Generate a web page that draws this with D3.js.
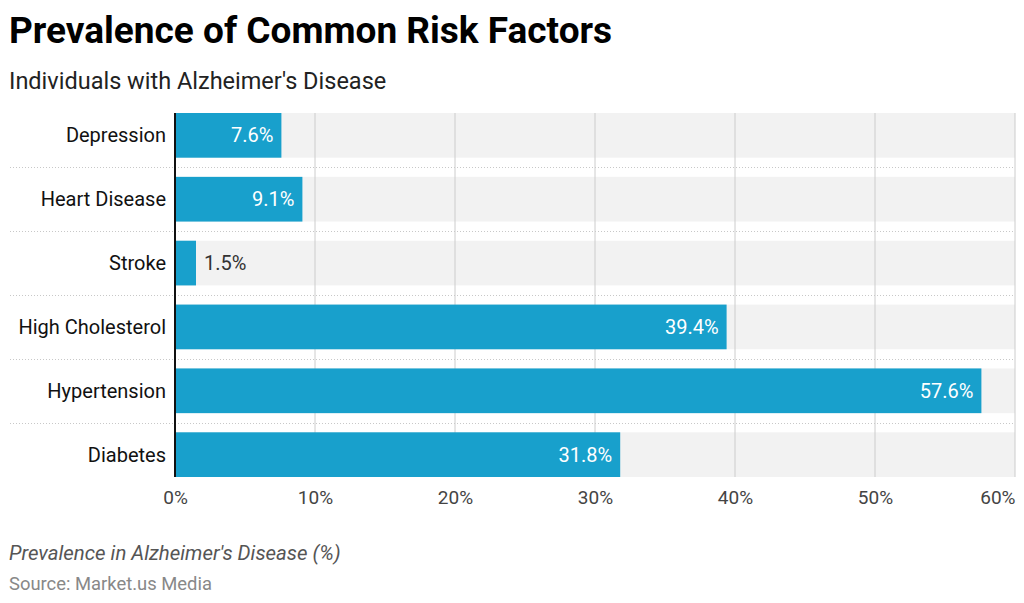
<!DOCTYPE html>
<html>
<head>
<meta charset="utf-8">
<script src="https://cdn.jsdelivr.net/npm/d3@7"></script>
<style>
  body { margin: 0; background: #fff; font-family: Roboto, sans-serif; }
  svg { display: block; }
</style>
</head>
<body>
<svg id="chart" width="1024" height="603"></svg>
<script>
const categories = ['Depression', 'Heart Disease', 'Stroke', 'High Cholesterol', 'Hypertension', 'Diabetes'];
const values = [7.6, 9.1, 1.5, 39.4, 57.6, 31.8];
const ticks = [0, 10, 20, 30, 40, 50, 60];

const margin = {top: 113, left: 175, right: 9, bottom: 126};
const width = 1024 - margin.left - margin.right;
const height = 603 - margin.top - margin.bottom;

const svg = d3.select('#chart');

svg.append('text')
    .attr('x', 9).attr('y', 43)
    .style('font-size', '37px').style('font-weight', 'bold').style('fill', '#000')
    .text('Prevalence of Common Risk Factors');

svg.append('text')
    .attr('x', 9).attr('y', 89)
    .style('font-size', '23.5px').style('fill', '#222')
    .text("Individuals with Alzheimer's Disease");

const x = d3.scaleLinear().domain([0, 60]).range([0, width]);
const y = d3.scaleBand().domain(categories).range([0, height]).paddingInner(0.3).paddingOuter(0);

const g = svg.append('g').attr('transform', `translate(${margin.left},${margin.top})`);

// background bands
g.selectAll('.bg').data(categories).join('rect')
    .attr('x', 0).attr('y', d => y(d))
    .attr('width', width).attr('height', y.bandwidth())
    .attr('fill', '#f2f2f2');

// dotted separators between rows
const gap = y.step() - y.bandwidth();
g.selectAll('.sep').data(categories.slice(1)).join('line')
    .attr('x1', 10 - margin.left).attr('x2', width)
    .attr('y1', d => Math.round(y(d) - gap / 2) + 0.5)
    .attr('y2', d => Math.round(y(d) - gap / 2) + 0.5)
    .attr('stroke', '#c8c8c8').attr('stroke-width', 1).attr('stroke-dasharray', '1,2');

// grid
g.selectAll('.grid').data(ticks.slice(1)).join('line')
    .attr('x1', d => x(d)).attr('x2', d => x(d))
    .attr('y1', 0).attr('y2', height)
    .attr('stroke', '#cccccc').attr('stroke-width', 1);

// bars
g.selectAll('.bar').data(values).join('rect')
    .attr('x', 0).attr('y', (d, i) => y(categories[i]))
    .attr('width', d => x(d)).attr('height', y.bandwidth())
    .attr('fill', '#18a0cc');

// value labels
g.selectAll('.val').data(values).join('text')
    .attr('x', d => x(d) > 60 ? x(d) - 8 : x(d) + 8)
    .attr('y', (d, i) => y(categories[i]) + y.bandwidth() / 2)
    .attr('dy', '0.35em')
    .attr('text-anchor', d => x(d) > 60 ? 'end' : 'start')
    .style('font-size', '20px')
    .style('fill', d => x(d) > 60 ? '#fff' : '#333')
    .text(d => d.toFixed(1) + '%');

// category labels
g.selectAll('.cat').data(categories).join('text')
    .attr('x', -9)
    .attr('y', d => y(d) + y.bandwidth() / 2)
    .attr('dy', '0.35em')
    .attr('text-anchor', 'end')
    .style('font-size', '20px').style('fill', '#111')
    .text(d => d);

// baseline
g.append('line')
    .attr('x1', 0).attr('x2', 0).attr('y1', 0).attr('y2', height)
    .attr('stroke', '#111').attr('stroke-width', 2);

// x axis
const xAxis = g.append('g').attr('transform', `translate(0,${height})`)
    .call(d3.axisBottom(x).tickValues(ticks).tickFormat(d => d + '%').tickSize(0).tickPadding(14));
xAxis.select('.domain').remove();
xAxis.selectAll('text').style('font-size', '19px').style('font-family', 'Roboto, sans-serif').style('fill', '#444');
xAxis.selectAll('.tick text').filter(d => d === 60).attr('text-anchor', 'end');

svg.append('text')
    .attr('x', 9).attr('y', 560)
    .style('font-size', '20.4px').style('font-style', 'italic').style('fill', '#555')
    .text("Prevalence in Alzheimer's Disease (%)");

svg.append('text')
    .attr('x', 9).attr('y', 590)
    .style('font-size', '18.4px').style('fill', '#888')
    .text('Source: Market.us Media');
</script>
</body>
</html>
